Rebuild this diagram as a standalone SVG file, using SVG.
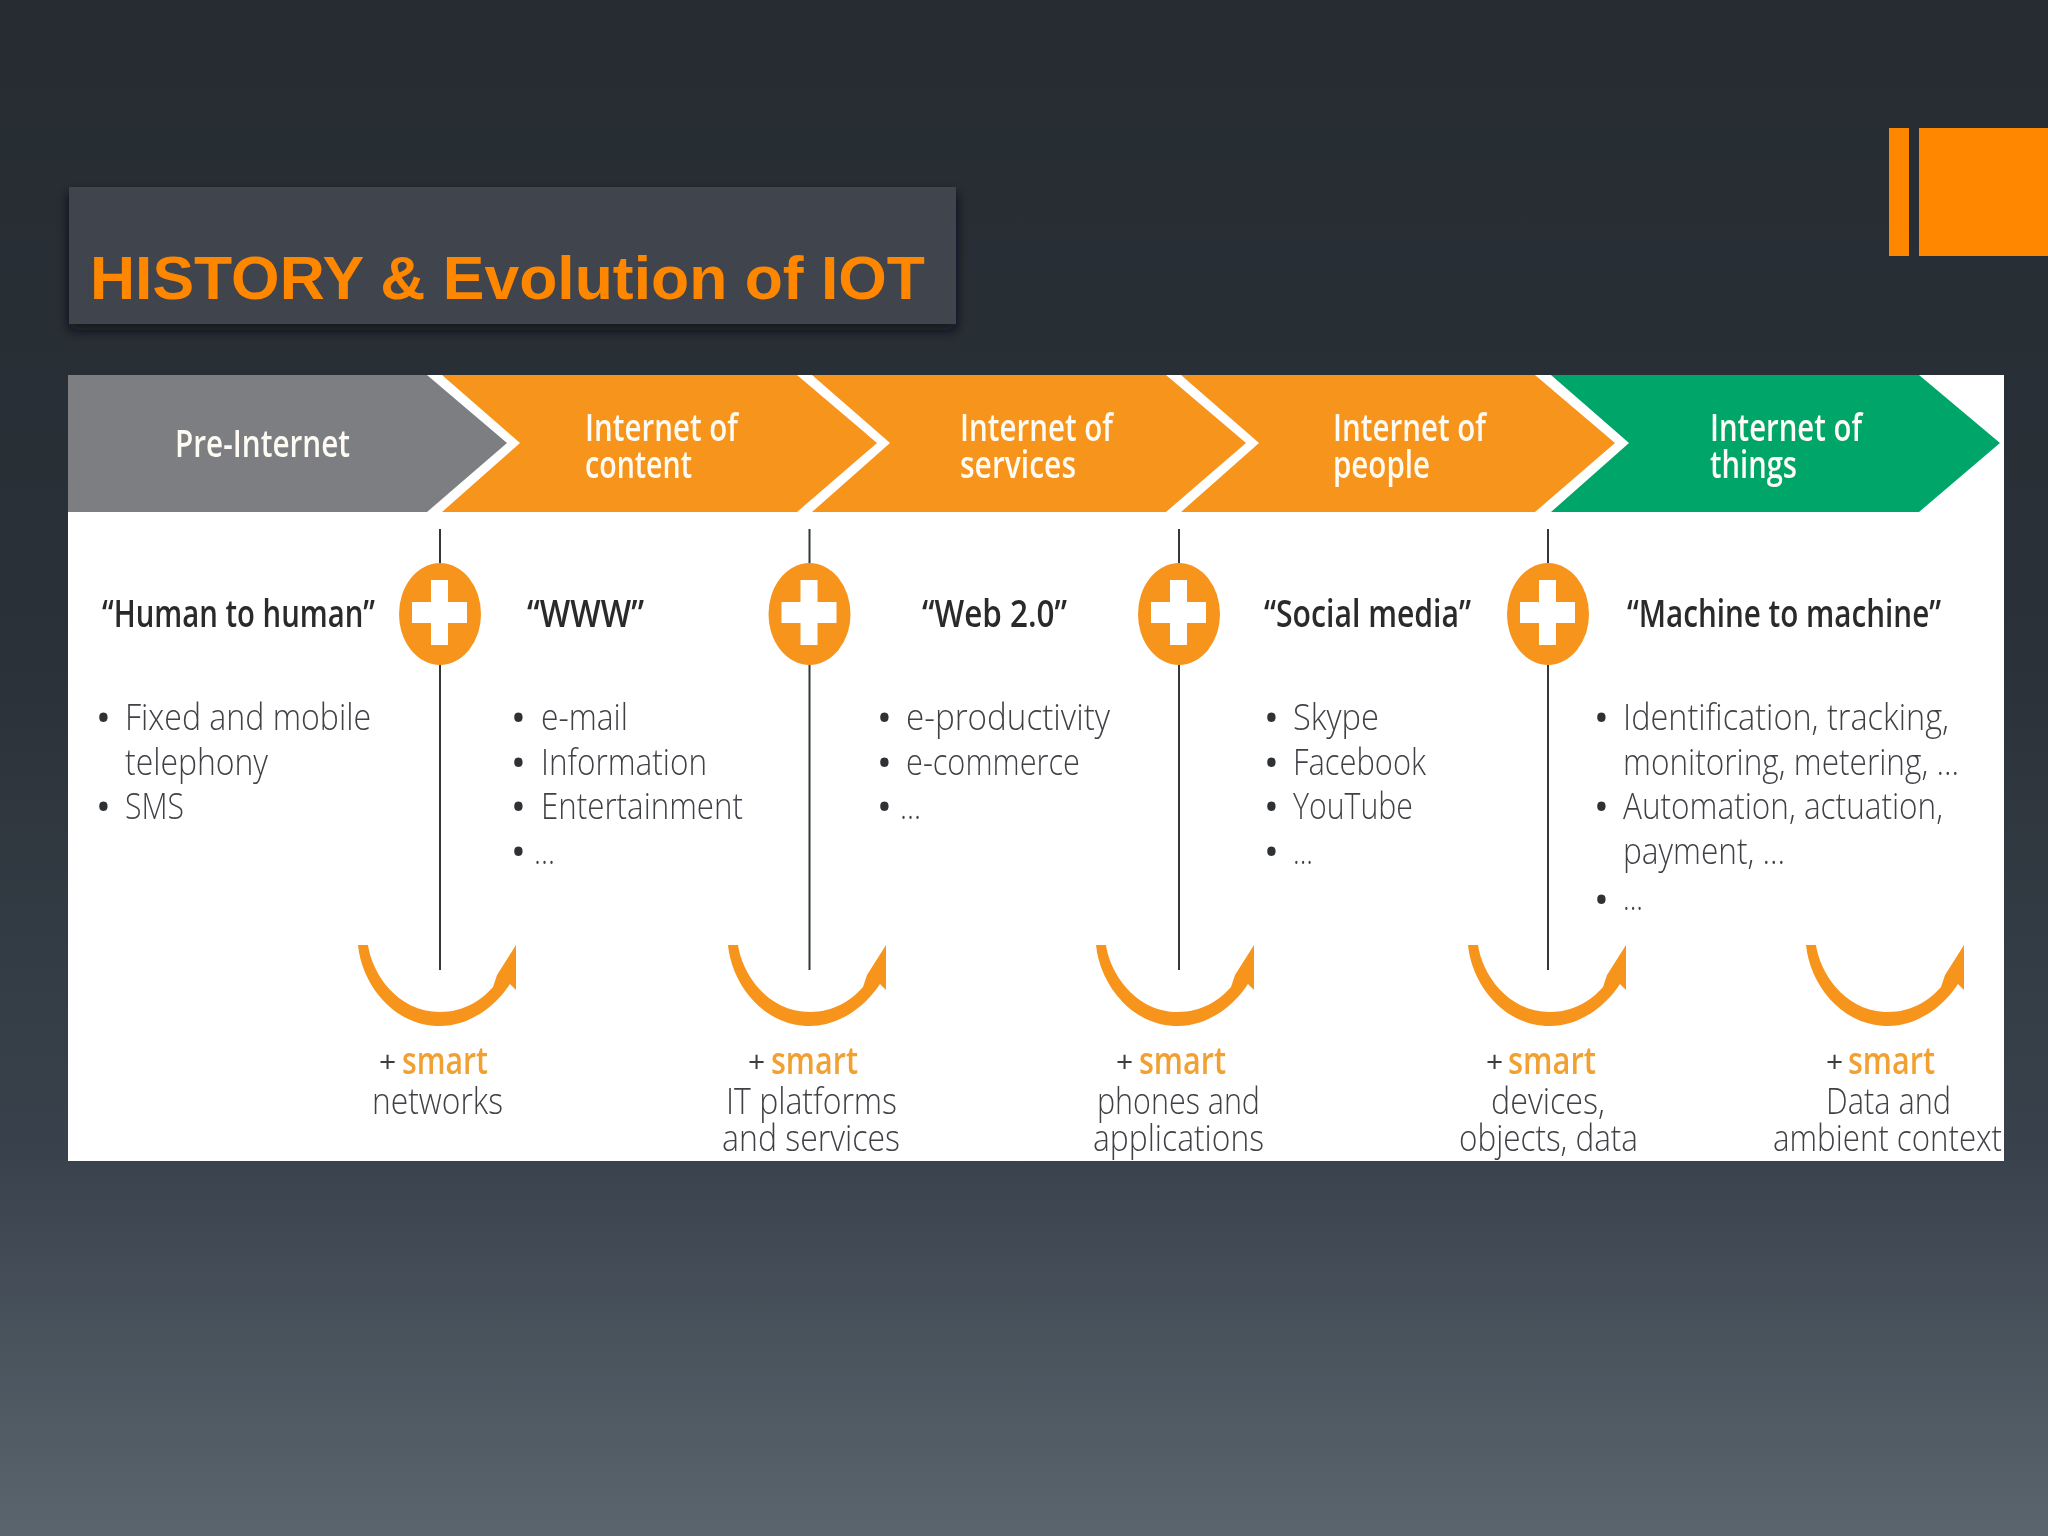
<svg xmlns="http://www.w3.org/2000/svg" width="2048" height="1536" viewBox="0 0 2048 1536">
<style>
text{font-family:"Open Sans","Noto Sans","Liberation Sans",sans-serif}
.chev{font-size:38px;font-weight:600;fill:#fdfbf4}
.head{font-size:37px;font-weight:600;fill:#2b2b2b}
.body{font-size:36px;font-weight:300;fill:#3f4145}
.dot{font-size:34px;font-weight:600;fill:#2f3135}
.sm{font-size:38px;font-weight:600;fill:#f2a033}
.pl{font-size:30px;font-weight:400;fill:#3a3c40}
.o{fill:#f7941e}
.ln{stroke:#35373b;stroke-width:2;fill:none}
.accent{fill:#ff8700}
</style>
<defs>
<linearGradient id="bg" x1="0" y1="0" x2="0" y2="1">
<stop offset="0" stop-color="#262c32"/><stop offset="0.4" stop-color="#293037"/><stop offset="0.75" stop-color="#39424c"/><stop offset="1" stop-color="#5a656e"/>
</linearGradient>
<filter id="sh" x="-5%" y="-20%" width="110%" height="150%"><feDropShadow dx="0" dy="6" stdDeviation="6" flood-color="#0c0f18" flood-opacity=".85"/></filter>
<filter id="soft" x="0" y="0" width="100%" height="100%"><feGaussianBlur stdDeviation="0.7"/></filter>
<clipPath id="panelclip"><rect x="68" y="375" width="1936" height="786"/></clipPath>
<path id="arc" class="o" d="M-1 0H9C13 28 38 67 81 67C104 67 122 56 134 42L138 30L157 0L157 45L151 39C136 62 110 81 81 81C35 81 3 40-1 0Z"/>
<g id="plus"><ellipse class="o" cx="0" cy="0" rx="41" ry="51"/><path fill="#fff" d="M-9-34H8V-12H27V9H8V31H-9V9H-28V-12H-9Z"/></g>
</defs>
<rect id="background" width="2048" height="1536" fill="url(#bg)"/>
<g id="accent-bars"><rect class="accent" x="1889" y="128" width="20" height="128"/><rect class="accent" x="1919" y="128" width="129" height="128"/></g>
<g id="title"><rect x="69" y="187" width="887" height="137" fill="#40454d" filter="url(#sh)"/>
<text x="90" y="299" font-size="62" font-weight="700" fill="#ff8700" style="font-family:'Liberation Sans',Arial,sans-serif" textLength="835" lengthAdjust="spacingAndGlyphs">HISTORY &amp; Evolution of IOT</text></g>
<rect id="panel" x="68" y="375" width="1936" height="786" fill="#fff"/>
<g clip-path="url(#panelclip)"><g filter="url(#soft)">
<g id="connectors">
<path class="ln" d="M440 529V970M809.500 529V970M1179 529V970M1548 529V970"/>
</g>
<g id="stage-pre-internet">
<polygon fill="#7b7e82" points="68,375 427,375 507,443 427,512 68,512"/>
<text class="chev" x="175" y="457" textLength="175" lengthAdjust="spacingAndGlyphs">Pre-Internet</text>
<use href="#plus" x="440" y="614"/>
<text class="head" x="102" y="627" textLength="273" lengthAdjust="spacingAndGlyphs">“Human to human”</text>
<text class="dot" x="97" y="730">•</text><text class="body" x="125" y="730" textLength="246" lengthAdjust="spacingAndGlyphs">Fixed and mobile</text>
<text class="body" x="125" y="775" textLength="143" lengthAdjust="spacingAndGlyphs">telephony</text>
<text class="dot" x="97" y="819">•</text><text class="body" x="125" y="819" textLength="59" lengthAdjust="spacingAndGlyphs">SMS</text>
<use href="#arc" x="359" y="945"/>
<text class="pl" x="379" y="1072">+</text><text class="sm" x="402" y="1074" textLength="86" lengthAdjust="spacingAndGlyphs">smart</text>
<text class="body" x="372" y="1114" textLength="131" lengthAdjust="spacingAndGlyphs">networks</text>
</g>
<g id="stage-content">
<polygon class="o" points="442,375 797,375 877,443 797,512 442,512 520,443"/>
<text class="chev" x="585" y="441" textLength="153" lengthAdjust="spacingAndGlyphs">Internet of</text>
<text class="chev" x="585" y="478" textLength="107" lengthAdjust="spacingAndGlyphs">content</text>
<use href="#plus" x="809.500" y="614"/>
<text class="head" x="527" y="627" textLength="117" lengthAdjust="spacingAndGlyphs">“WWW”</text>
<text class="dot" x="512" y="730">•</text><text class="body" x="541" y="730" textLength="87" lengthAdjust="spacingAndGlyphs">e-mail</text>
<text class="dot" x="512" y="775">•</text><text class="body" x="541" y="775" textLength="166" lengthAdjust="spacingAndGlyphs">Information</text>
<text class="dot" x="512" y="819">•</text><text class="body" x="541" y="819" textLength="202" lengthAdjust="spacingAndGlyphs">Entertainment</text>
<text class="dot" x="512" y="864">•</text><text class="body" x="534" y="864" textLength="21" lengthAdjust="spacingAndGlyphs">...</text>
<use href="#arc" x="729" y="945"/>
<text class="pl" x="748" y="1072">+</text><text class="sm" x="771" y="1074" textLength="87" lengthAdjust="spacingAndGlyphs">smart</text>
<text class="body" x="726" y="1114" textLength="171" lengthAdjust="spacingAndGlyphs">IT platforms</text>
<text class="body" x="722" y="1151" textLength="178" lengthAdjust="spacingAndGlyphs">and services</text>
</g>
<g id="stage-services">
<polygon class="o" points="812,375 1166,375 1246,443 1166,512 812,512 890,443"/>
<text class="chev" x="960" y="441" textLength="153" lengthAdjust="spacingAndGlyphs">Internet of</text>
<text class="chev" x="960" y="478" textLength="116" lengthAdjust="spacingAndGlyphs">services</text>
<use href="#plus" x="1179" y="614"/>
<text class="head" x="922" y="627" textLength="145" lengthAdjust="spacingAndGlyphs">“Web 2.0”</text>
<text class="dot" x="878" y="730">•</text><text class="body" x="906" y="730" textLength="204" lengthAdjust="spacingAndGlyphs">e-productivity</text>
<text class="dot" x="878" y="775">•</text><text class="body" x="906" y="775" textLength="174" lengthAdjust="spacingAndGlyphs">e-commerce</text>
<text class="dot" x="878" y="819">•</text><text class="body" x="900" y="819" textLength="21" lengthAdjust="spacingAndGlyphs">...</text>
<use href="#arc" x="1097" y="945"/>
<text class="pl" x="1116" y="1072">+</text><text class="sm" x="1139" y="1074" textLength="87" lengthAdjust="spacingAndGlyphs">smart</text>
<text class="body" x="1097" y="1114" textLength="163" lengthAdjust="spacingAndGlyphs">phones and</text>
<text class="body" x="1093" y="1151" textLength="171" lengthAdjust="spacingAndGlyphs">applications</text>
</g>
<g id="stage-people">
<polygon class="o" points="1181,375 1535,375 1615,443 1535,512 1181,512 1259,443"/>
<text class="chev" x="1333" y="441" textLength="153" lengthAdjust="spacingAndGlyphs">Internet of</text>
<text class="chev" x="1333" y="478" textLength="97" lengthAdjust="spacingAndGlyphs">people</text>
<use href="#plus" x="1548" y="614"/>
<text class="head" x="1264" y="627" textLength="207" lengthAdjust="spacingAndGlyphs">“Social media”</text>
<text class="dot" x="1265" y="730">•</text><text class="body" x="1293" y="730" textLength="86" lengthAdjust="spacingAndGlyphs">Skype</text>
<text class="dot" x="1265" y="775">•</text><text class="body" x="1293" y="775" textLength="133" lengthAdjust="spacingAndGlyphs">Facebook</text>
<text class="dot" x="1265" y="819">•</text><text class="body" x="1293" y="819" textLength="120" lengthAdjust="spacingAndGlyphs">YouTube</text>
<text class="dot" x="1265" y="864">•</text><text class="body" x="1293" y="864" textLength="20" lengthAdjust="spacingAndGlyphs">...</text>
<use href="#arc" x="1469" y="945"/>
<text class="pl" x="1486" y="1072">+</text><text class="sm" x="1508" y="1074" textLength="88" lengthAdjust="spacingAndGlyphs">smart</text>
<text class="body" x="1491" y="1114" textLength="114" lengthAdjust="spacingAndGlyphs">devices,</text>
<text class="body" x="1459" y="1151" textLength="179" lengthAdjust="spacingAndGlyphs">objects, data</text>
</g>
<g id="stage-things">
<polygon fill="#05a56b" points="1551,375 1919,375 2000,443 1919,512 1551,512 1629,443"/>
<text class="chev" x="1710" y="441" textLength="152" lengthAdjust="spacingAndGlyphs">Internet of</text>
<text class="chev" x="1710" y="478" textLength="87" lengthAdjust="spacingAndGlyphs">things</text>
<text class="head" x="1627" y="627" textLength="314" lengthAdjust="spacingAndGlyphs">“Machine to machine”</text>
<text class="dot" x="1595" y="730">•</text><text class="body" x="1623" y="730" textLength="326" lengthAdjust="spacingAndGlyphs">Identification, tracking,</text>
<text class="body" x="1623" y="775" textLength="336" lengthAdjust="spacingAndGlyphs">monitoring, metering, ...</text>
<text class="dot" x="1595" y="819">•</text><text class="body" x="1623" y="819" textLength="320" lengthAdjust="spacingAndGlyphs">Automation, actuation,</text>
<text class="body" x="1623" y="864" textLength="162" lengthAdjust="spacingAndGlyphs">payment, ...</text>
<text class="dot" x="1595" y="912">•</text><text class="body" x="1623" y="910" textLength="20" lengthAdjust="spacingAndGlyphs">...</text>
<use href="#arc" x="1807" y="945"/>
<text class="pl" x="1826" y="1072">+</text><text class="sm" x="1848" y="1074" textLength="87" lengthAdjust="spacingAndGlyphs">smart</text>
<text class="body" x="1826" y="1114" textLength="125" lengthAdjust="spacingAndGlyphs">Data and</text>
<text class="body" x="1773" y="1151" textLength="229" lengthAdjust="spacingAndGlyphs">ambient context</text>
</g>
</g></g>
</svg>
